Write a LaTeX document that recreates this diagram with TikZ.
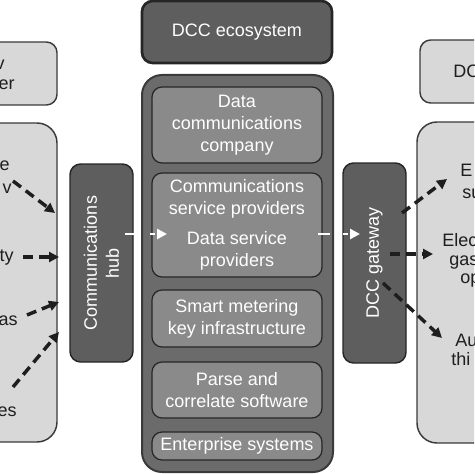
\documentclass[tikz,border=0pt]{standalone}
\usepackage{fontspec}
\setmainfont{Liberation Sans}
\usetikzlibrary{arrows.meta}
\definecolor{lightpanel}{HTML}{D8D8D8}
\definecolor{darkpanel}{HTML}{5E5E5E}
\definecolor{shellpanel}{HTML}{6B6B6B}
\definecolor{midpanel}{HTML}{8A8A8A}
\definecolor{edgegray}{HTML}{3A3A3A}
\definecolor{edgedark}{HTML}{262626}
\definecolor{inkdark}{HTML}{1E1E1E}
\tikzset{>={Triangle[length=7.5pt,width=7.5pt]}}

\begin{document}
\begin{tikzpicture}[x=0.75pt,y=-0.75pt,
    font=\fontsize{13.5}{16.5}\selectfont,
    sidebox/.style={draw=edgegray,line width=1.1pt,fill=lightpanel,rounded corners=#1},
    darkbox/.style={draw=edgedark,line width=1.1pt,fill=darkpanel,rounded corners=8pt,text=white,align=center},
    innerbox/.style={draw=edgedark,line width=0.9pt,fill=midpanel,rounded corners=7.5pt,text=white,align=center,minimum width=127.5pt},
    frag/.style={text=inkdark,inner sep=0pt},
    flow/.style={->,draw=inkdark,line width=2.6pt,dash pattern=on 7.5pt off 4.5pt},
    link/.style={->,draw=white,line width=2.2pt,dash pattern=on 9pt off 9.75pt on 3.75pt off 9pt}]
    \useasboundingbox (0,0) rectangle (474,474);
    \clip (0,0) rectangle (474,474);
    % side panels, cut by the frame
    \node[sidebox=8pt,minimum width=87.75pt,minimum height=47.25pt] (consumer) at (-1.5,73.5) {};
    \node[sidebox=15pt,minimum width=117.75pt,minimum height=239.25pt] (devices) at (-21.5,282.5) {};
    \node[sidebox=8pt,minimum width=90pt,minimum height=47.25pt] (users) at (480,71.5) {};
    \node[sidebox=15pt,minimum width=120pt,minimum height=240.75pt] (parties) at (497,282.5) {};
    % DCC
    \node[darkbox,draw=edgedark,line width=2pt,minimum width=142.5pt,minimum height=46.5pt] (eco) at (237,32) {DCC ecosystem};
    \node[draw=edgegray,line width=1.5pt,fill=shellpanel,rounded corners=15pt,minimum width=143.25pt,minimum height=297.75pt] (shell) at (237.5,273.5) {};
    \node[innerbox,minimum height=57pt] (company) at (237,125) {Data\\communications\\company};
    \node[innerbox,minimum height=78pt] (providers) at (237,225) {Communications\\service providers\\[6pt]Data service\\providers};
    \node[innerbox,minimum height=42.75pt] (smki) at (237,318.5) {Smart metering\\key infrastructure};
    \node[innerbox,minimum height=42pt] (parse) at (237,390) {Parse and\\correlate software};
    \node[innerbox,minimum height=21pt] (enterprise) at (237,446) {Enterprise systems};
    \node[darkbox,rotate=90,minimum width=148.5pt,minimum height=47.25pt] (hub) at (101.5,263) {Communications\\hub};
    \node[darkbox,rotate=90,minimum width=150pt,minimum height=47.25pt] (gateway) at (374.5,263) {DCC gateway};
    % cut texts
    \node[frag,anchor=base east] (c1) at (5,70) {v};
    \node[frag,anchor=base east] (c2) at (15,90) {er};
    \node[frag,anchor=base east] (d1) at (10,170) {e};
    \node[frag,anchor=base east] (d2) at (12,193) {v};
    \node[frag,anchor=base east] (d3) at (14,261) {ty};
    \node[frag,anchor=base east] (d4) at (18,325) {as};
    \node[frag,anchor=base east] (d5) at (17,416) {es};
    \node[frag,anchor=base west] (u1) at (453,78) {DC};
    \node[frag,anchor=base west] (p1) at (460,176) {E};
    \node[frag,anchor=base west] (p2) at (462,198) {su};
    \node[frag,anchor=base west] (p3) at (442,246) {Elec};
    \node[frag,anchor=base west] (p4) at (449,265) {gas};
    \node[frag,anchor=base west] (p5) at (460,283) {op};
    \node[frag,anchor=base west] (p6) at (455,346) {Au};
    \node[frag,anchor=base west] (p7) at (451,365) {thi};
    % arrow ends
    \coordinate (a1) at (13,181);  \coordinate (b1) at (55,213);
    \coordinate (a2) at (23,257);  \coordinate (b2) at (59,257);
    \coordinate (a3) at (27,315);  \coordinate (b3) at (59,302);
    \coordinate (a4) at (13,387);  \coordinate (b4) at (59,332);
    \coordinate (g1) at (402,213); \coordinate (h1) at (447,179);
    \coordinate (g2) at (390,254); \coordinate (h2) at (433,254);
    \coordinate (g3) at (383,283); \coordinate (h3) at (442,338);
    \coordinate (w1) at (125,234); \coordinate (v1) at (167,234);
    \coordinate (w2) at (318,234); \coordinate (v2) at (360,234);
    \foreach \s/\t in {a1/b1,a2/b2,a3/b3,a4/b4,g1/h1,g2/h2,g3/h3}
        \draw[flow] (\s) -- (\t);
    \draw[link] (w1) -- (v1);
    \draw[link] (w2) -- (v2);
\end{tikzpicture}
\end{document}
